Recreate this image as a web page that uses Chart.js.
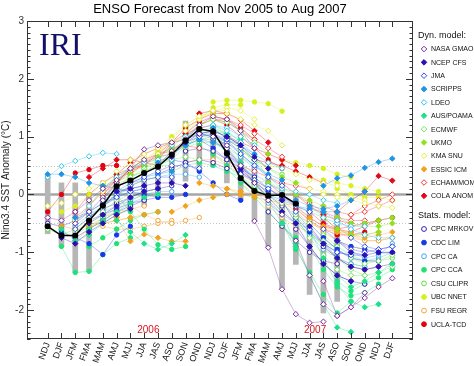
<!DOCTYPE html>
<html>
<head>
<meta charset="utf-8">
<script src="https://cdn.jsdelivr.net/npm/chart.js@4"></script>
<style>
  html, body { margin: 0; padding: 0; background: #fff; }
  #wrap { width: 474px; height: 366px; }
</style>
</head>
<body>
<div id="wrap"><canvas id="c" width="474" height="366"></canvas></div>
<script>
// season labels on the x axis (index 0..25)
const seasonLabels = ['NDJ','DJF','JFM','FMA','MAM','AMJ','MJJ','JJA','JAS','ASO','SON','OND',
  'NDJ','DJF','JFM','FMA','MAM','AMJ','MJJ','JJA','JAS','ASO','SON','OND','NDJ','DJF'];
const yearLabels = ['2006', '2007'];
const yearPositions = [7.3, 19.4];
const yTickValues = [-2, -1, 0, 1, 2, 3];

// observed Nino3.4 (black line)
const observed = [-0.55,-0.71,-0.71,-0.45,-0.19,0.14,0.24,0.37,0.48,0.69,0.93,1.13,1.09,0.71,0.28,0.06,-0.02,-0.01,-0.16];

// grey spread bars per season [low, high]
const spreadBars = [[-0.68,0.33],[-0.9,0.2],[-1.35,0.2],[-1.33,0.0],[-0.5,0.2],[-0.4,0.3],[-0.3,0.4],
  [-0.2,0.5],[0.0,0.6],[0.2,0.9],[0.23,1.27],[0.4,1.2],[0.5,1.2],[0.2,1.0],[-0.1,0.8],[-0.46,0.5],
  [-0.92,0.3],[-1.64,0.2],[-1.21,0.0],[-1.73,-0.2],[-2.05,-0.3],[-1.85,-0.3]];

// forecast runs: [first season index, values...]
const nasaGmao = [[0,-0.4,-0.45,-0.3,-0.1,0.1,0.25],[4,-0.1,0.2,0.45,0.78,0.85,0.9],[8,0.5,0.75,0.95,1.05,1.0,0.85],
  [12,1.05,0.8,0.5,0.2,-0.1,-0.35],[15,-0.46,-0.92,-1.64,-2.07,-2.22,-2.2],[20,-1.5,-2.1,-1.95,-1.79,-1.6,-1.45],
  [2,-0.5,-0.3,-0.05,0.2,0.45,0.6],[10,0.95,1.2,1.35,1.3,1.1,0.8],[18,-0.8,-1.4,-1.9,-2.1,-1.95,-1.7]];
const ncepCfs = [[1,-0.75,-0.85,-0.65,-0.5,-0.35,-0.25],[5,0.05,0.1,0.15,0.2,0.2,0.15],[9,0.65,0.9,1.05,1.1,1.0,0.85],
  [13,0.7,0.45,0.2,-0.05,-0.3,-0.5],[17,-0.1,-0.5,-0.9,-1.2,-1.4,-1.5],[21,-0.8,-1.0,-1.05,-1.0,-1.0],
  [3,-0.5,-0.35,-0.2,-0.05,0.05,0.1],[11,1.05,1.1,1.0,0.85,0.65,0.45],[19,-0.55,-0.85,-1.1,-1.25,-1.3,-1.25]];
const jma = [[2,-0.6,-0.4,-0.2,-0.05,0.05,0.1],[6,0.2,0.3,0.4,0.5,0.5,0.45],[10,0.9,1.0,1.05,0.95,0.8,0.6],
  [14,0.35,0.25,0.1,-0.05,-0.2,-0.3],[18,-0.3,-0.6,-0.85,-1.0,-1.05,-1.05],[22,-0.75,-0.9,-0.95,-0.9],
  [4,-0.2,0.0,0.15,0.25,0.3,0.3],[12,1.05,0.9,0.7,0.5,0.3,0.15],[20,-0.6,-0.8,-0.95,-1.0,-0.95,-0.9]];
const scripps = [[0,0.35,0.35,0.3,0.2,0.15,0.1],[4,-0.1,0.05,0.2,0.3,0.35,0.4],[8,0.55,0.7,0.85,0.95,0.9,0.8],
  [12,1.15,0.95,0.7,0.5,0.35,0.25],[16,0.0,-0.1,-0.2,-0.25,-0.3,-0.3],[20,0.15,0.28,0.33,0.46,0.56,0.62],
  [2,-0.4,-0.3,-0.15,0.0,0.1,0.15],[10,0.85,0.95,1.0,0.95,0.85,0.7],[18,-0.1,-0.2,-0.25,-0.2,-0.1,0.05]];
const ldeo = [[0,0.3,0.49,0.58,0.66,0.72,0.7],[4,0.1,0.3,0.45,0.55,0.6,0.6],[8,0.6,0.85,1.0,1.05,1.0,0.9],
  [12,1.2,1.1,0.9,0.7,0.55,0.45],[16,0.15,0.1,0.05,0.0,-0.1,-0.15],[20,-0.3,-0.45,-0.6,-0.7,-0.75,-0.75],
  [2,-0.5,-0.2,0.1,0.3,0.45,0.55],[10,1.0,1.15,1.2,1.15,1.0,0.85],[18,-0.2,-0.3,-0.4,-0.5,-0.55,-0.55]];
const ausPoama = [[1,-0.6,-0.8,-0.7,-0.5,-0.35,-0.25],[5,-0.45,-0.65,-0.85,-0.95,-0.85,-0.7],[9,0.6,0.85,1.0,1.1,1.05,0.95],
  [13,0.8,0.55,0.25,-0.1,-0.5,-0.85],[17,-0.3,-0.9,-1.4,-1.9,-2.3,-2.38],[21,-1.4,-1.6,-1.5,-1.35,-1.2],
  [3,-0.6,-0.45,-0.3,-0.15,-0.05,0.0],[11,1.1,1.15,1.05,0.85,0.6,0.3],[19,-0.6,-1.1,-1.55,-1.85,-1.95,-1.9]];
const ecmwf = [[2,-0.65,-0.5,-0.3,-0.1,0.0,0.05],[6,0.3,0.4,0.5,0.6,0.65,0.6],[10,1.0,1.2,1.3,1.25,1.1,0.9],
  [14,0.3,0.15,0.0,-0.15,-0.35,-0.5],[18,-0.4,-0.75,-1.05,-1.3,-1.4,-1.4],[22,-1.1,-1.2,-1.15,-1.05],
  [4,-0.15,0.1,0.3,0.45,0.55,0.6],[12,1.2,1.05,0.8,0.55,0.3,0.1],[20,-0.8,-1.1,-1.3,-1.4,-1.35,-1.25]];
const ukmo = [[3,-0.4,-0.2,0.0,0.15,0.25,0.3],[7,0.45,0.6,0.75,0.9,1.0,1.0],[11,1.2,1.3,1.25,1.1,0.9,0.7],
  [15,0.25,0.2,0.1,0.0,-0.1,-0.2],[19,-0.2,-0.4,-0.6,-0.7,-0.7,-0.65],[23,-0.5,-0.45,-0.4],
  [5,0.2,0.35,0.5,0.65,0.8,0.9],[13,0.95,0.8,0.6,0.45,0.3,0.2],[21,-0.4,-0.5,-0.55,-0.55,-0.5]];
const kmaSnu = [[0,-0.2,-0.15,0.0,0.1,0.2,0.3],[4,0.2,0.4,0.6,0.7,0.8,0.8],[8,0.7,0.95,1.2,1.35,1.45,1.45],
  [12,1.35,1.4,1.3,1.2,1.1,0.85],[16,0.5,0.45,0.35,0.25,0.2,0.15],[20,0.0,-0.05,-0.1,-0.15,-0.2,-0.23],
  [2,-0.45,-0.2,0.05,0.3,0.5,0.65],[10,1.1,1.3,1.45,1.5,1.45,1.3],[18,0.2,0.1,0.05,0.0,-0.05,-0.1]];
const essicIcm = [[1,-0.55,-0.6,-0.55,-0.5,-0.45,-0.4],[5,-0.4,-0.81,-0.69,-0.75,-0.81,-0.81],[9,-0.3,-0.2,-0.1,-0.05,0.0,0.0],
  [13,0.1,0.0,-0.05,-0.1,-0.15,-0.2],[17,-0.1,-0.3,-0.5,-0.6,-0.65,-0.65],[21,-0.6,-0.7,-0.75,-0.7,-0.65],
  [3,-0.5,-0.5,-0.45,-0.4,-0.35,-0.3],[11,0.2,0.15,0.1,0.05,0.0,-0.05],[19,-0.4,-0.55,-0.65,-0.7,-0.7,-0.65]];
const echamMom = [[2,-0.4,-0.2,0.05,0.25,0.4,0.5],[6,0.35,0.55,0.7,0.8,0.85,0.8],[10,1.0,1.2,1.3,1.3,1.2,1.05],
  [14,0.5,0.4,0.3,0.2,0.15,0.1],[18,0.0,-0.15,-0.3,-0.4,-0.45,-0.45],[22,-0.35,-0.2,-0.1,0.0],
  [4,0.0,0.2,0.4,0.55,0.65,0.7],[12,1.3,1.25,1.1,0.95,0.8,0.65],[20,-0.2,-0.3,-0.35,-0.3,-0.2,-0.1]];
const colaAnom = [[3,0.3,0.45,0.6,0.6,0.55,0.5],[7,0.5,0.7,0.9,1.05,1.15,1.2],[11,1.4,1.45,1.4,1.29,1.1,0.9],
  [15,0.6,0.55,0.5,0.4,0.3,0.2],[19,-0.3,-0.5,-0.6,-0.55,-0.5,-0.45],[21,-0.3,-0.1,0.05,0.32,0.24],
  [5,0.35,0.55,0.7,0.8,0.9,0.95],[13,1.0,0.9,0.8,0.7,0.6,0.5],[17,0.2,0.0,-0.2,-0.35,-0.45,-0.5]];
const cpcMrkov = [[0,-0.5,-0.55,-0.45,-0.3,-0.15,-0.05],[4,-0.25,-0.15,-0.05,0.05,0.1,0.15],[8,0.35,0.45,0.55,0.6,0.55,0.45],
  [12,0.95,0.75,0.5,0.25,0.0,-0.2],[16,-0.3,-0.55,-0.8,-1.0,-1.15,-1.2],[20,-0.9,-1.1,-1.25,-1.3,-1.25,-1.2],
  [2,-0.75,-0.6,-0.45,-0.3,-0.2,-0.1],[10,0.75,0.8,0.75,0.6,0.45,0.3],[18,-0.6,-0.9,-1.2,-1.4,-1.5,-1.55]];
const cdcLim = [[1,-0.65,-0.75,-0.85,-1.04,-0.7,-0.55],[5,0.1,0.05,0.0,-0.05,-0.05,0.0],[9,0.6,0.55,0.4,0.2,0.0,-0.1],
  [13,0.7,0.5,0.3,0.1,-0.05,-0.15],[17,-0.15,-0.4,-0.65,-0.85,-1.0,-1.05],[21,-0.8,-0.9,-0.95,-1.01,-1.01],
  [3,-0.45,-0.35,-0.25,-0.15,-0.1,-0.05],[11,0.95,0.8,0.6,0.4,0.2,0.05],[19,-0.5,-0.75,-0.95,-1.1,-1.15,-1.15]];
const cpcCa = [[2,-0.55,-0.35,-0.2,-0.05,0.05,0.1],[6,0.2,0.25,0.3,0.35,0.35,0.3],[10,0.95,1.05,1.0,0.85,0.65,0.45],
  [14,0.25,0.05,-0.15,-0.35,-0.5,-0.6],[18,-0.45,-0.7,-0.95,-1.1,-1.2,-1.25],[22,-1.0,-1.1,-1.05,-0.85],
  [4,-0.3,-0.2,-0.1,0.0,0.05,0.05],[12,0.9,0.75,0.55,0.35,0.2,0.05],[20,-0.75,-0.95,-1.1,-1.15,-1.1,-1.0]];
const cpcCca = [[1,-0.9,-1.35,-1.33,-1.04,-0.85,-0.75],[5,0.0,-0.3,-0.6,-0.87,-0.95,-0.9],[9,0.4,0.5,0.55,0.5,0.4,0.3],
  [13,0.45,0.2,-0.05,-0.3,-0.55,-0.75],[17,-0.5,-0.95,-1.35,-1.73,-2.05,-1.85],[21,-1.5,-1.67,-1.55,-1.44,-1.3],
  [3,-0.9,-0.75,-0.6,-0.45,-0.35,-0.3],[11,0.85,0.7,0.5,0.3,0.1,-0.05],[19,-0.9,-1.3,-1.6,-1.75,-1.7,-1.55]];
const csuClipr = [[0,-0.6,-0.7,-0.6,-0.4,-0.2,0.0],[4,-0.05,0.15,0.3,0.4,0.5,0.5],[8,0.5,0.7,0.85,0.95,0.95,0.85],
  [12,1.0,0.9,0.75,0.6,0.45,0.35],[16,0.0,-0.25,-0.5,-0.7,-0.85,-0.9],[20,-0.7,-0.9,-1.05,-1.15,-1.15,-1.1],
  [2,-0.7,-0.55,-0.4,-0.25,-0.1,0.0],[10,0.8,0.9,0.9,0.8,0.65,0.5],[18,-0.35,-0.65,-0.9,-1.1,-1.2,-1.25]];
const ubcNnet = [[1,-0.3,-0.2,0.0,0.15,0.25,0.3],[5,0.25,0.45,0.6,0.75,0.9,1.0],[9,0.8,1.05,1.3,1.5,1.55,1.55],
  [12,1.6,1.63,1.63,1.6,1.57,1.44],[17,0.6,0.55,0.5,0.45,0.35,0.3],[21,0.1,0.0,-0.05,-0.05,-0.1],
  [3,-0.2,0.05,0.25,0.4,0.5,0.55],[7,0.55,0.8,1.0,1.2,1.35,1.4],[19,0.3,0.25,0.2,0.15,0.1,0.05]];
const fsuRegr = [[2,-0.8,-0.6,-0.4,-0.3,-0.25,-0.2],[6,-0.2,-0.35,-0.45,-0.5,-0.45,-0.4],[10,0.55,0.6,0.6,0.5,0.35,0.2],
  [14,0.2,0.0,-0.2,-0.4,-0.55,-0.65],[18,-0.2,-0.45,-0.65,-0.8,-0.9,-0.95],[22,-0.7,-0.8,-0.8,-0.75],
  [4,-0.55,-0.6,-0.6,-0.55,-0.5,-0.45],[12,0.7,0.55,0.4,0.25,0.1,0.0],[20,-0.5,-0.65,-0.75,-0.8,-0.8,-0.75]];
const uclaTcd = [[0,-0.3,0.0,0.37,0.43,0.5,0.5],[4,0.0,0.25,0.45,0.6,0.7,0.75],[8,0.6,0.9,1.15,1.3,1.4,1.4],
  [12,1.3,1.2,1.0,0.8,0.6,0.45],[16,0.2,0.0,-0.2,-0.4,-0.55,-0.6],[20,-0.4,-0.6,-0.65,-0.55,-0.45,-0.4],
  [2,-0.3,0.0,0.2,0.35,0.45,0.5],[10,1.05,1.25,1.35,1.3,1.15,0.95],[18,-0.25,-0.45,-0.6,-0.7,-0.7,-0.65]];

const dynNames = ['NASA GMAO','NCEP CFS','JMA','SCRIPPS','LDEO','AUS/POAMA','ECMWF','UKMO','KMA SNU','ESSIC ICM','ECHAM/MOM','COLA ANOM'];
const statNames = ['CPC MRKOV','CDC LIM','CPC CA','CPC CCA','CSU CLIPR','UBC NNET','FSU REGR','UCLA-TCD'];
const dynColors = ['#7a2a9e','#2c10b4','#2e4cf0','#2094e4','#30c4ee','#1ee08a','#6ee65a','#8ee21e','#e4f03a','#f0a41e','#f03434','#e2081a'];
const statColors = ['#3a1ea6','#1838e8','#3ea8f2','#1ee276','#5ee43e','#d6f01e','#f2a43a','#e2000e'];
const dynOpen = [true,false,true,false,true,false,true,false,true,false,true,false];
const statOpen = [true,false,true,false,true,false,true,false];
const dynRuns = [nasaGmao, ncepCfs, jma, scripps, ldeo, ausPoama, ecmwf, ukmo, kmaSnu, essicIcm, echamMom, colaAnom];
const statRuns = [cpcMrkov, cdcLim, cpcCa, cpcCca, csuClipr, ubcNnet, fsuRegr, uclaTcd];

function hexA(hex, a) {
  const n = parseInt(hex.slice(1), 16);
  return `rgba(${(n >> 16) & 255},${(n >> 8) & 255},${n & 255},${a})`;
}

const datasets = [];
datasets.push({
  type: 'bar',
  label: 'spread',
  data: spreadBars.map((r, i) => ({ x: i, y: r })),
  backgroundColor: '#b6b6b6',
  barThickness: 5,
  order: 10
});

function addModel(runs, color, open, style) {
  runs.forEach(run => {
    const start = run[0];
    datasets.push({
      type: 'line',
      data: run.slice(1).map((v, k) => ({ x: start + k, y: v })),
      borderColor: hexA(color, 0.5),
      borderWidth: 0.7,
      pointStyle: style,
      pointRadius: style === 'rectRot' ? 2.7 : 2.2,
      pointBorderWidth: 1,
      pointBorderColor: color,
      pointBackgroundColor: open ? '#ffffff' : color,
      order: 2
    });
  });
}
dynRuns.forEach((runs, i) => addModel(runs, dynColors[i], dynOpen[i], 'rectRot'));
statRuns.forEach((runs, i) => addModel(runs, statColors[i], statOpen[i], 'circle'));

datasets.push({
  type: 'line',
  data: observed.map((v, i) => ({ x: i, y: v })),
  borderColor: '#000',
  borderWidth: 1.5,
  pointRadius: 2.3,
  pointBackgroundColor: '#000',
  pointBorderColor: '#000',
  order: 0
});

const decorPlugin = {
  id: 'decor',
  beforeDatasetsDraw(chart) {
    const { ctx, chartArea: a, scales: { y } } = chart;
    ctx.save();
    ctx.strokeStyle = '#c4c4c4';
    ctx.lineWidth = 1;
    ctx.setLineDash([1, 2]);
    [0.5, -0.5].forEach(v => {
      const py = Math.round(y.getPixelForValue(v)) + 0.5;
      ctx.beginPath(); ctx.moveTo(a.left, py); ctx.lineTo(a.right, py); ctx.stroke();
    });
    ctx.setLineDash([]);
    ctx.strokeStyle = '#a6a6a6';
    ctx.lineWidth = 2.5;
    const p0 = y.getPixelForValue(0);
    ctx.beginPath(); ctx.moveTo(a.left, p0); ctx.lineTo(a.right, p0); ctx.stroke();
    ctx.restore();
  },
  afterDraw(chart) {
    const { ctx, chartArea: a, scales: { x, y } } = chart;
    ctx.save();
    // frame
    ctx.strokeStyle = '#333';
    ctx.lineWidth = 1;
    ctx.strokeRect(a.left + 0.5, a.top + 0.5, a.right - a.left - 1, a.bottom - a.top - 1);
    // inward ticks
    ctx.beginPath();
    for (let i = 0; i <= 25; i++) {
      const px = Math.round(x.getPixelForValue(i)) + 0.5;
      ctx.moveTo(px, a.bottom); ctx.lineTo(px, a.bottom - 6);
      ctx.moveTo(px, a.top); ctx.lineTo(px, a.top + 6);
    }
    for (let k = -25; k <= 30; k++) {
      const v = k / 10;
      const py = Math.round(y.getPixelForValue(v)) + 0.5;
      const len = k % 10 === 0 ? 7 : 3.5;
      ctx.moveTo(a.left, py); ctx.lineTo(a.left + len, py);
      ctx.moveTo(a.right, py); ctx.lineTo(a.right - len, py);
    }
    ctx.stroke();

    // title
    ctx.fillStyle = '#000';
    ctx.font = '13px "Liberation Sans", Arial, sans-serif';
    ctx.textAlign = 'center';
    ctx.textBaseline = 'alphabetic';
    ctx.fillText('ENSO Forecast from Nov 2005 to Aug 2007', (a.left + a.right) / 2, 13);

    // IRI logo text
    ctx.fillStyle = '#12106c';
    ctx.font = '32px "Liberation Serif", "Times New Roman", serif';
    ctx.textAlign = 'left';
    ctx.fillText('IRI', 39, 55);

    // years
    ctx.fillStyle = '#d8141c';
    ctx.font = '10px "Liberation Sans", Arial, sans-serif';
    ctx.textAlign = 'center';
    yearLabels.forEach((t, i) => ctx.fillText(t, x.getPixelForValue(yearPositions[i]), a.bottom - 6));

    // legend
    const lx = 424;
    ctx.textAlign = 'left';
    ctx.textBaseline = 'middle';
    ctx.fillStyle = '#111';
    ctx.font = '9px "Liberation Sans", Arial, sans-serif';
    ctx.fillText('Dyn. model:', 418, 36);
    ctx.fillText('Stats. model:', 418, 216);
    const drawItem = (name, color, open, style, yy) => {
      ctx.save();
      ctx.strokeStyle = color;
      ctx.fillStyle = open ? '#fff' : color;
      ctx.lineWidth = 1;
      Chart.helpers.drawPoint(ctx, { pointStyle: style, radius: style === 'rectRot' ? 2.8 : 2.4, borderWidth: 1, rotation: 0 }, lx, yy);
      ctx.restore();
      ctx.fillStyle = '#111';
      ctx.font = '7px "Liberation Sans", Arial, sans-serif';
      ctx.fillText(name, 431, yy + 0.5);
    };
    dynNames.forEach((n, i) => drawItem(n, dynColors[i], dynOpen[i], 'rectRot', 49 + i * 13.35));
    statNames.forEach((n, i) => drawItem(n, statColors[i], statOpen[i], 'circle', 229 + i * 13.6));
    ctx.restore();
  }
};

new Chart(document.getElementById('c'), {
  type: 'line',
  data: { datasets },
  options: {
    responsive: false,
    animation: false,
    events: [],
    layout: { padding: { top: 21, right: 61, left: 0, bottom: 0 } },
    plugins: { legend: { display: false }, title: { display: false }, tooltip: { enabled: false } },
    scales: {
      x: {
        type: 'linear',
        min: -1,
        max: 26,
        grid: { display: false, drawTicks: false },
        border: { display: false },
        afterFit(s) { s.height = 27; },
        afterBuildTicks(s) {
          const t = [];
          for (let i = -1; i <= 26; i++) t.push({ value: i });
          s.ticks = t;
        },
        ticks: {
          autoSkip: false,
          minRotation: 70,
          maxRotation: 70,
          padding: 2,
          color: '#111',
          font: { size: 9, family: '"Liberation Sans", Arial, sans-serif' },
          callback: v => seasonLabels[v] || ''
        }
      },
      y: {
        min: -2.5,
        max: 3,
        grid: { display: false, drawTicks: false },
        border: { display: false },
        afterFit(s) { s.width = 27; },
        afterBuildTicks(s) { s.ticks = yTickValues.map(v => ({ value: v })); },
        ticks: {
          padding: 3,
          color: '#333',
          font: { size: 10, family: '"Liberation Sans", Arial, sans-serif' }
        },
        title: {
          display: true,
          text: 'Nino3.4 SST Anomaly (°C)',
          color: '#222',
          padding: { top: 0, bottom: 1 },
          font: { size: 10, family: '"Liberation Sans", Arial, sans-serif' }
        }
      }
    }
  },
  plugins: [decorPlugin]
});
</script>
</body>
</html>
